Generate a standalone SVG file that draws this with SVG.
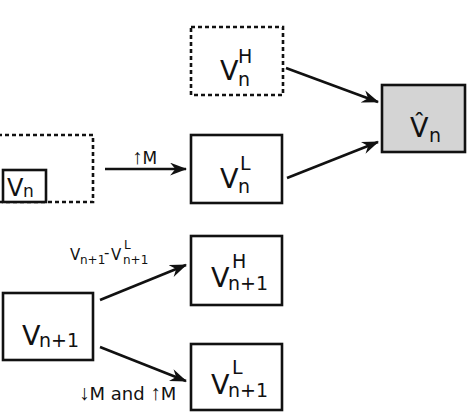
<svg xmlns="http://www.w3.org/2000/svg" width="474" height="413" viewBox="0 0 474 413">
<defs>
<marker id="ah" viewBox="0 0 16 12" refX="15" refY="6" markerWidth="17" markerHeight="13" markerUnits="userSpaceOnUse" orient="auto">
<path d="M0,0 L16,6 L0,12 L5,6 Z" fill="#111"/>
</marker>
<style>
.box{fill:#fff;stroke:#111;stroke-width:2.6}
.dash{fill:#fff;stroke:#111;stroke-width:2.6;stroke-dasharray:4 3}
.gray{fill:#d4d4d4;stroke:#111;stroke-width:2.6}
.big{font-family:"DejaVu Sans",sans-serif;font-size:27px;fill:#111}
.sm{font-family:"DejaVu Sans",sans-serif;font-size:19px;fill:#111}
.lab{font-family:"DejaVu Sans",sans-serif;font-size:18px;fill:#111}
.arr{font-family:"Liberation Sans",sans-serif;font-size:21px}
.lv{font-family:"DejaVu Sans",sans-serif;font-size:15px;fill:#111}
.labs{font-family:"DejaVu Sans",sans-serif;font-size:12px;fill:#111}
.conn line{stroke:#111;stroke-width:2.6;marker-end:url(#ah)}
</style>
</defs>
<g id="VnH">
<rect class="dash" x="191" y="27" width="92" height="68"/>
<text class="big" x="220" y="80">V</text><text class="sm" x="238" y="86">n</text><text class="sm" x="238" y="63">H</text>
</g>
<g id="Vhat">
<rect class="gray" x="382" y="85" width="83" height="67"/>
<text class="big" x="410" y="137">V&#x302;</text><text class="sm" x="429" y="142">n</text>
</g>
<g id="VnL">
<rect class="box" x="191" y="135" width="91" height="68"/>
<text class="big" x="220" y="188">V</text><text class="sm" x="238" y="193">n</text><text class="sm" x="240" y="170">L</text>
</g>
<g id="dashbox">
<rect class="dash" x="-2" y="135" width="95" height="67"/>
</g>
<g id="Vn">
<rect class="box" x="3" y="170" width="43" height="32"/>
<text class="big" x="7" y="196" style="font-size:24px">V</text><text class="sm" x="23" y="197" style="font-size:17px">n</text>
</g>
<g id="Vn1H">
<rect class="box" x="191" y="236" width="91" height="69"/>
<text class="big" x="211" y="287">V</text><text class="sm" x="228" y="290">n+1</text><text class="sm" x="232" y="268">H</text>
</g>
<g id="Vn1">
<rect class="box" x="3" y="293" width="90" height="67"/>
<text class="big" x="22" y="345">V</text><text class="sm" x="39" y="347">n+1</text>
</g>
<g id="Vn1L">
<rect class="box" x="191" y="344" width="91" height="66"/>
<text class="big" x="211" y="394">V</text><text class="sm" x="228" y="397">n+1</text><text class="sm" x="232" y="374">L</text>
</g>
<g class="conn">
<line x1="105" y1="169" x2="186" y2="169"/>
<line x1="286" y1="68" x2="378" y2="102"/>
<line x1="287" y1="178" x2="378" y2="142"/>
<line x1="100" y1="300" x2="186" y2="265"/>
<line x1="100" y1="347" x2="186" y2="381"/>
</g>
<g id="labels">
<text class="lab" x="132" y="164"><tspan class="arr">↑</tspan><tspan style="font-size:17px">M</tspan></text>
<text class="lv" x="70" y="260">V</text><text class="labs" x="80" y="264">n+1</text><text class="lv" x="104" y="258">-</text><text class="lv" x="111" y="260">V</text><text class="labs" x="123" y="264">n+1</text><text class="labs" x="124" y="249">L</text>
<text class="lab" x="79" y="400"><tspan class="arr">↓</tspan>M and <tspan class="arr">↑</tspan>M</text>
</g>
</svg>
